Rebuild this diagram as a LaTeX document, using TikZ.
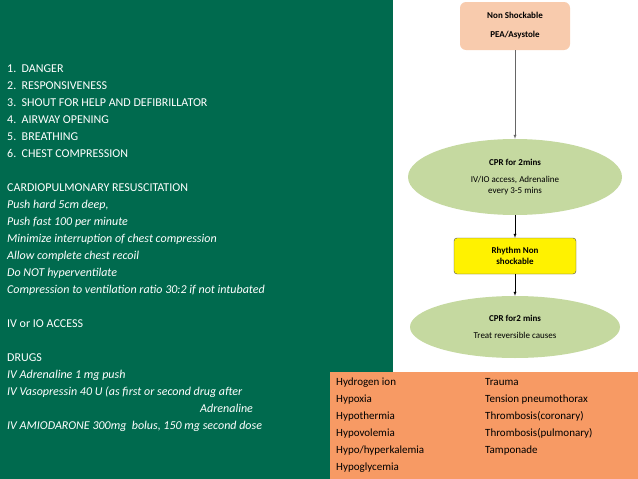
\documentclass[tikz,border=0pt]{standalone}
\usepackage{fontspec}
\setmainfont{Carlito}
\usetikzlibrary{shapes,arrows,positioning,calc}
\definecolor{slidegreen}{HTML}{006A4E}
\definecolor{peach}{HTML}{F8CBAD}
\definecolor{sage}{HTML}{C5D9A0}
\definecolor{causes}{HTML}{F79A64}
\tikzset{
  line/.style={font=\fontsize{12}{14}\selectfont, text=white, anchor=base west, inner sep=0},
  cause/.style={font=\fontsize{11}{13}\selectfont, anchor=base west, inner sep=0},
  flowbox/.style={font=\bfseries\fontsize{9}{11}\selectfont, align=center}
}
\begin{document}
\begin{tikzpicture}[x=1pt,y=-1pt]
    \useasboundingbox (0,0) rectangle (638,479);
    \fill[slidegreen] (0,0) rectangle (638,479);
    \fill[white] (393,0) rectangle (638,372);
    \fill[causes] (330,372) rectangle (638,479);

    % left text
    \node (l1) [line] at (7,72) {1.\ \ DANGER};
    \node (l2) [line] at (7,89) {2.\ \ RESPONSIVENESS};
    \node (l3) [line] at (7,106) {3.\ \ SHOUT FOR HELP AND DEFIBRILLATOR};
    \node (l4) [line] at (7,123) {4.\ \ AIRWAY OPENING};
    \node (l5) [line] at (7,140) {5.\ \ BREATHING};
    \node (l6) [line] at (7,157) {6.\ \ CHEST COMPRESSION};
    \node (cpr) [line] at (7,191) {CARDIOPULMONARY RESUSCITATION};
    \node (c1) [line] at (7,208) {\itshape Push hard 5cm deep,};
    \node (c2) [line] at (7,225) {\itshape Push fast 100 per minute};
    \node (c3) [line] at (7,242) {\itshape Minimize interruption of chest compression};
    \node (c4) [line] at (7,259) {\itshape Allow complete chest recoil};
    \node (c5) [line] at (7,276) {\itshape Do NOT hyperventilate};
    \node (c6) [line] at (7,293) {\itshape Compression to ventilation ratio 30:2 if not intubated};
    \node (iv) [line] at (7,327) {IV or IO ACCESS};
    \node (drugs) [line] at (7,361) {DRUGS};
    \node (d1) [line] at (7,378) {\itshape IV Adrenaline 1 mg push};
    \node (d2) [line] at (7,395) {\itshape IV Vasopressin 40 U (as first or second drug after};
    \node (d3) [line] at (200,412) {\itshape Adrenaline};
    \node (d4) [line] at (7,429) {\itshape IV AMIODARONE 300mg\ \ bolus, 150 mg second dose};

    % flowchart
    \node (top) [flowbox, draw=none, fill=peach, rounded corners=6pt, minimum width=110pt, minimum height=48pt] at (515,26) {Non Shockable\\[8pt]PEA/Asystole};
    \node (cpr1) [flowbox, ellipse, fill=sage, minimum width=214pt, minimum height=76pt] at (515,177) {CPR for 2mins\\[6pt]\mdseries IV/IO access, Adrenaline\\\mdseries every 3-5 mins};
    \node (rhythm) [flowbox, fill=yellow, draw=black!70, rounded corners=3pt, minimum width=122pt, minimum height=36pt] at (515,256) {Rhythm Non\\shockable};
    \node (cpr2) [flowbox, ellipse, fill=sage, minimum width=210pt, minimum height=62pt] at (515,327) {CPR for2 mins\\[6pt]\mdseries Treat reversible causes};

    \draw [-latex, black!60] (top) -- (cpr1);
    \draw [-latex] (cpr1) -- (rhythm);
    \draw [-latex] (rhythm) -- (cpr2);

    % causes
    \foreach \t [count=\i] in {Hydrogen ion,Hypoxia,Hypothermia,Hypovolemia,Hypo/hyperkalemia,Hypoglycemia}
        \node (h\i) [cause] at (336,381+17*\i-17+4) {\t};
    \foreach \t [count=\i] in {Trauma,Tension pneumothorax,Thrombosis(coronary),Thrombosis(pulmonary),Tamponade}
        \node (t\i) [cause] at (485,381+17*\i-17+4) {\t};
\end{tikzpicture}
\end{document}
